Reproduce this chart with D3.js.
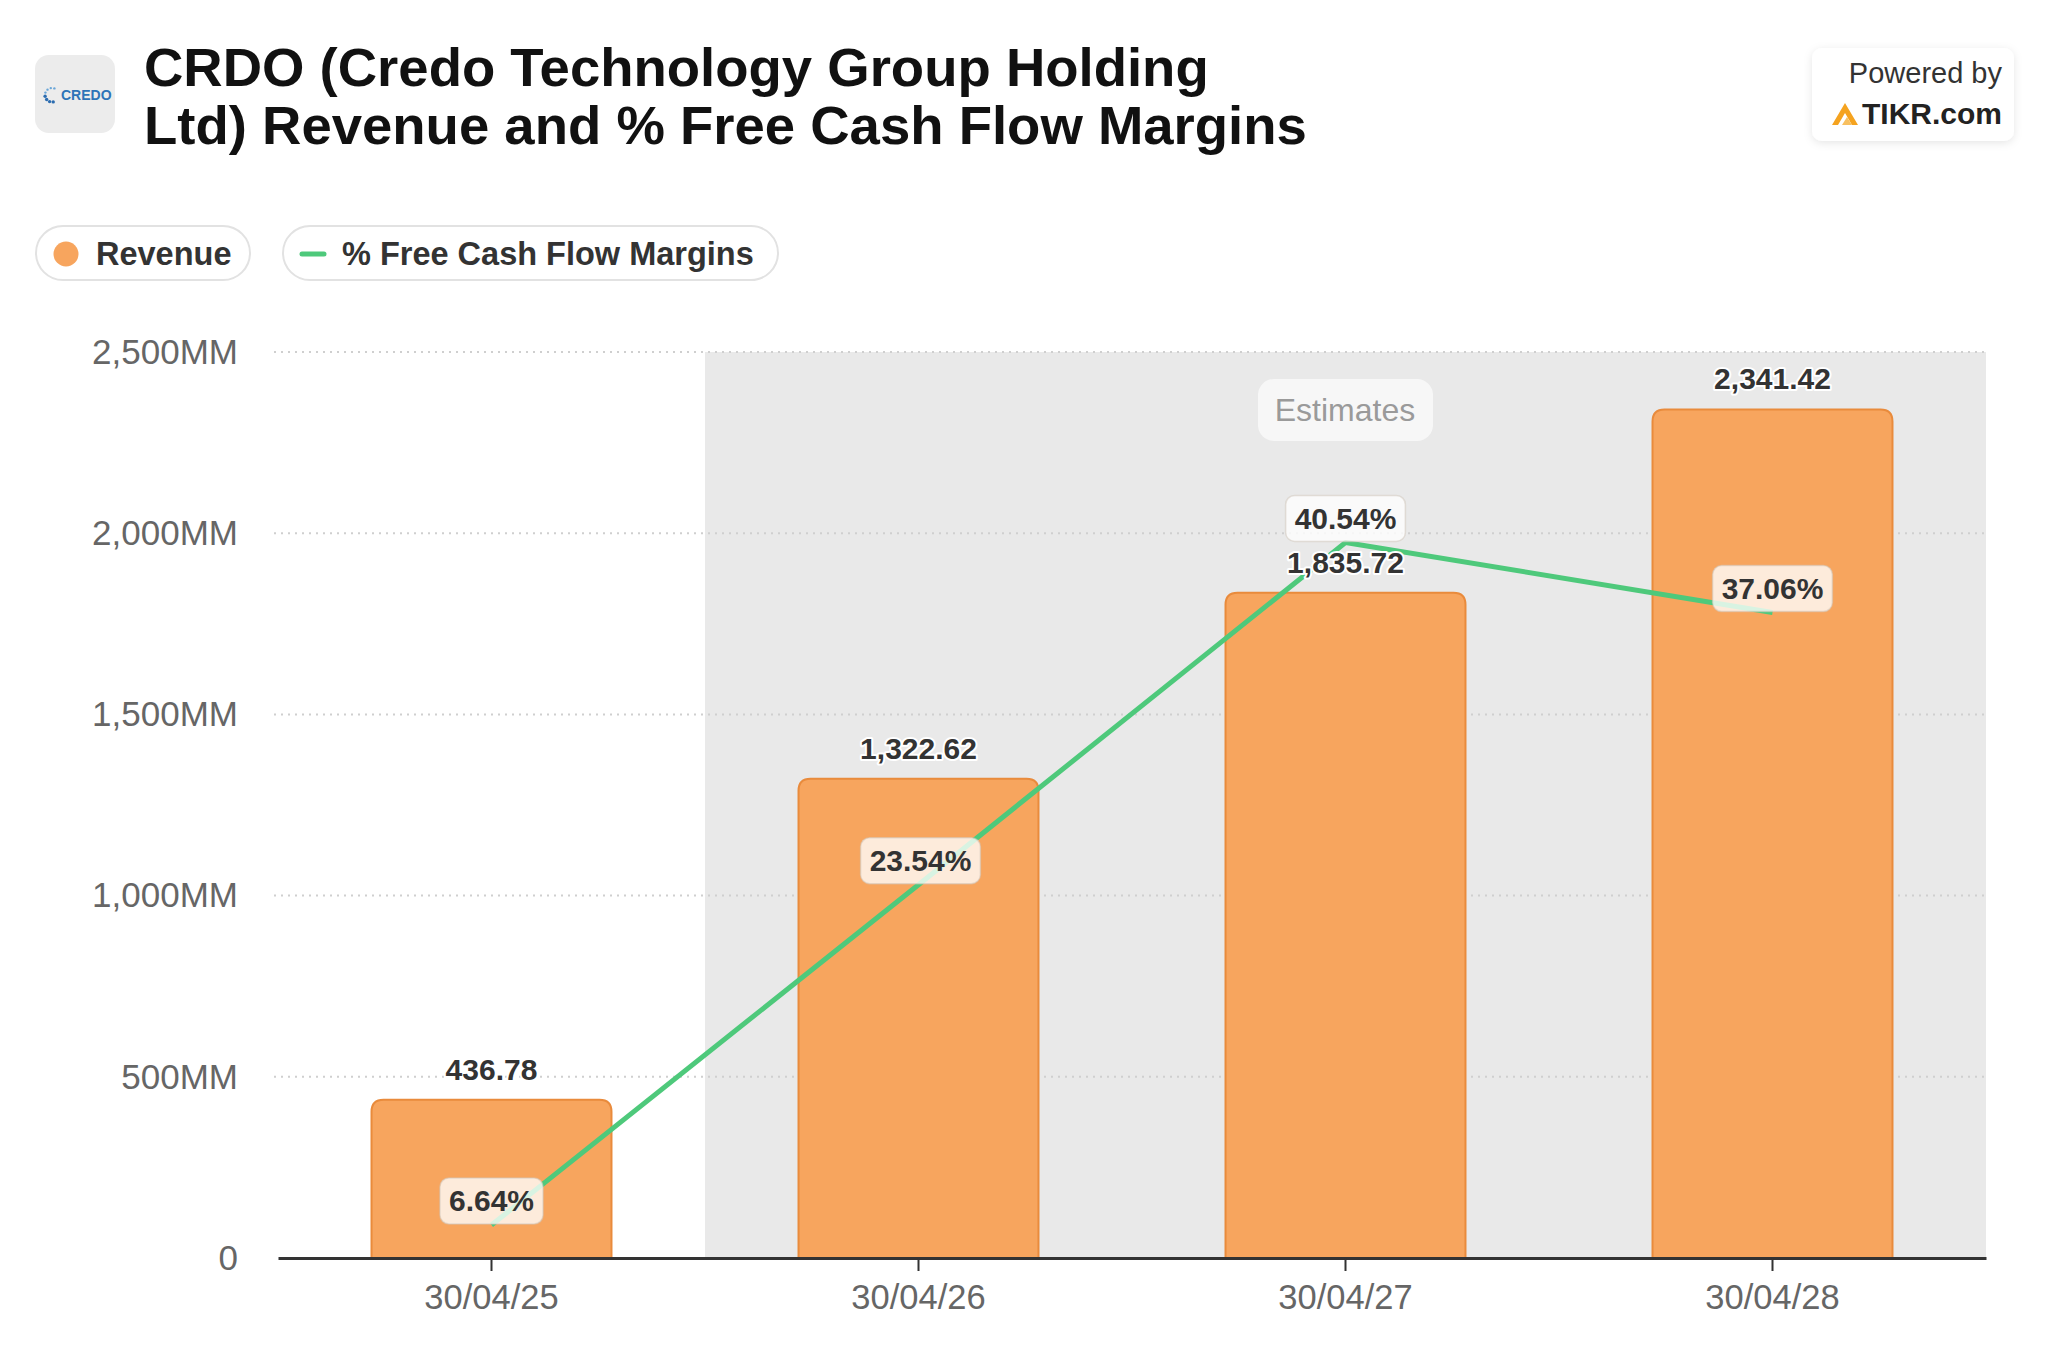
<!DOCTYPE html>
<html>
<head>
<meta charset="utf-8">
<script src="https://cdn.jsdelivr.net/npm/d3@7"></script>
<style>
  html, body { margin: 0; padding: 0; background: #ffffff; }
  svg { display: block; font-family: "Liberation Sans", Arial, Helvetica, sans-serif; }
</style>
</head>
<body>
<svg id="chart" width="2048" height="1365"></svg>
<script>
// ---------- data ----------
const categories = ["30/04/25", "30/04/26", "30/04/27", "30/04/28"];
const revenue = [436.78, 1322.62, 1835.72, 2341.42];
const revenueLabels = ["436.78", "1,322.62", "1,835.72", "2,341.42"];
const fcfMargin = [6.64, 23.54, 40.54, 37.06];
const fcfLabels = ["6.64%", "23.54%", "40.54%", "37.06%"];
const yTicks = [0, 500, 1000, 1500, 2000, 2500];
const estimateStartIndex = 1;
const titleLines = ["CRDO (Credo Technology Group Holding", "Ltd) Revenue and % Free Cash Flow Margins"];
const legendItems = ["Revenue", "% Free Cash Flow Margins"];

// ---------- layout ----------
const svg = d3.select("#chart");
const plot = { left: 278, right: 1986, top: 352, bottom: 1258 };
const C = {
  bar: "#f7a55e", barStroke: "#e98b3c", line: "#4ec97b",
  text: "#333333", axisText: "#666666", grid: "#cfcfcf", shade: "#e9e9e9"
};

const x = d3.scaleBand().domain(categories).range([plot.left, plot.right]).padding(0);
const y = d3.scaleLinear().domain([0, 2500]).range([plot.bottom, plot.top]);
const y2 = d3.scaleLinear().domain([5, 50]).range([plot.bottom, plot.top]);
const barW = x.bandwidth() * 0.562;
const cx = d => x(d) + x.bandwidth() / 2;

const defs = svg.append("defs");
const f = defs.append("filter").attr("id", "shadow").attr("x", "-20%").attr("y", "-20%").attr("width", "140%").attr("height", "150%");
f.append("feDropShadow").attr("dx", 0).attr("dy", 2).attr("stdDeviation", 4).attr("flood-color", "#000").attr("flood-opacity", 0.10);

// ---------- header ----------
const logo = svg.append("g");
logo.append("rect").attr("x", 35).attr("y", 55).attr("width", 80).attr("height", 78).attr("rx", 14).attr("fill", "#ececec");
const dotAngles = [70, 100, 130, 160, 190, 220, 250, 280];
dotAngles.forEach((a, i) => {
  const r = (a * Math.PI) / 180;
  logo.append("circle")
    .attr("cx", 52 + 7 * Math.cos(r)).attr("cy", 95 - 7 * Math.sin(r))
    .attr("r", i > 3 ? 1.7 : 1.2).attr("fill", i > 3 ? "#2b6cb0" : "#6aa6d8");
});
logo.append("text").attr("x", 61).attr("y", 100).attr("font-size", 14).attr("font-weight", "bold")
  .attr("fill", "#2e74b8").text("CREDO");

svg.append("g").selectAll("text").data(titleLines).join("text")
  .attr("x", 144).attr("y", (d, i) => 86 + i * 58)
  .attr("font-size", 54.5).attr("font-weight", "bold").attr("fill", "#111")
  .text(d => d);

const pb = svg.append("g");
pb.append("rect").attr("x", 1812).attr("y", 48).attr("width", 202).attr("height", 93).attr("rx", 10)
  .attr("fill", "#fff").attr("filter", "url(#shadow)");
pb.append("text").attr("x", 2002).attr("y", 83).attr("text-anchor", "end").attr("font-size", 29).attr("fill", "#333").text("Powered by");
pb.append("text").attr("x", 2002).attr("y", 124).attr("text-anchor", "end").attr("font-size", 30).attr("font-weight", "bold").attr("fill", "#222").text("TIKR.com");
pb.append("path").attr("d", "M1832,125 L1845,103 L1858,125 L1852,125 L1845,113 L1838,125 Z").attr("fill", "#f5a31f");
pb.append("path").attr("d", "M1842,125 L1847,117 L1852,125 Z").attr("fill", "#f8c060");

// ---------- legend ----------
const lg = svg.append("g");
lg.append("rect").attr("x", 36).attr("y", 226).attr("width", 214).attr("height", 54).attr("rx", 27)
  .attr("fill", "#fff").attr("stroke", "#e2e2e2").attr("stroke-width", 2);
lg.append("circle").attr("cx", 66).attr("cy", 254).attr("r", 12.5).attr("fill", C.bar);
lg.append("text").attr("x", 96).attr("y", 265).attr("font-size", 32.5).attr("font-weight", "bold").attr("fill", C.text).text(legendItems[0]);
lg.append("rect").attr("x", 283).attr("y", 226).attr("width", 495).attr("height", 54).attr("rx", 27)
  .attr("fill", "#fff").attr("stroke", "#e2e2e2").attr("stroke-width", 2);
lg.append("line").attr("x1", 302).attr("x2", 324).attr("y1", 254).attr("y2", 254)
  .attr("stroke", C.line).attr("stroke-width", 5).attr("stroke-linecap", "round");
lg.append("text").attr("x", 342).attr("y", 265).attr("font-size", 32.5).attr("font-weight", "bold").attr("fill", C.text).text(legendItems[1]);

// ---------- plot ----------
svg.append("rect")
  .attr("x", x(categories[estimateStartIndex])).attr("y", plot.top)
  .attr("width", plot.right - x(categories[estimateStartIndex])).attr("height", plot.bottom - plot.top)
  .attr("fill", C.shade);

svg.append("g").selectAll("line").data(yTicks.filter(t => t > 0)).join("line")
  .attr("x1", plot.left - 4).attr("x2", plot.right).attr("y1", d => y(d)).attr("y2", d => y(d))
  .attr("stroke", C.grid).attr("stroke-width", 2).attr("stroke-dasharray", "2,5");

const yAxis = d3.axisLeft(y).tickValues(yTicks).tickSize(0).tickPadding(0)
  .tickFormat(d => d === 0 ? "0" : d3.format(",")(d) + "MM");
const yg = svg.append("g").attr("transform", "translate(238,0)").call(yAxis);
yg.select(".domain").remove();
yg.selectAll("text").attr("font-size", 35).attr("fill", C.axisText).attr("font-family", "Liberation Sans, Arial, sans-serif");

const eg = svg.append("g");
eg.append("rect").attr("x", 1258).attr("y", 379).attr("width", 175).attr("height", 62).attr("rx", 16).attr("fill", "#f7f7f7");
eg.append("text").attr("x", 1345).attr("y", 421).attr("text-anchor", "middle").attr("font-size", 32).attr("fill", "#9a9a9a").text("Estimates");

const rTop = 12;
function barPath(x0, w, yTop, yBot) {
  return `M${x0},${yBot} L${x0},${yTop + rTop} Q${x0},${yTop} ${x0 + rTop},${yTop} L${x0 + w - rTop},${yTop} Q${x0 + w},${yTop} ${x0 + w},${yTop + rTop} L${x0 + w},${yBot} Z`;
}
svg.append("g").selectAll("path").data(categories).join("path")
  .attr("d", (d, i) => barPath(cx(d) - barW / 2, barW, y(revenue[i]), y(0)))
  .attr("fill", C.bar).attr("stroke", C.barStroke).attr("stroke-width", 2);

const xAxis = d3.axisBottom(x).tickSize(13).tickSizeOuter(0).tickPadding(14);
const xg = svg.append("g").attr("transform", `translate(0,${plot.bottom})`).call(xAxis);
xg.select(".domain").attr("stroke", "#333").attr("stroke-width", 3);
xg.selectAll(".tick line").attr("stroke", "#333").attr("stroke-width", 2);
xg.selectAll("text").attr("font-size", 34.5).attr("fill", C.axisText).attr("font-family", "Liberation Sans, Arial, sans-serif");

const line = d3.line().x((d, i) => cx(categories[i])).y(d => y2(d));
svg.append("path").datum(fcfMargin).attr("d", line)
  .attr("fill", "none").attr("stroke", C.line).attr("stroke-width", 5).attr("stroke-linejoin", "round");

svg.append("g").selectAll("text").data(categories).join("text")
  .attr("x", d => cx(d)).attr("y", (d, i) => y(revenue[i]) - 20)
  .attr("text-anchor", "middle").attr("font-size", 30).attr("font-weight", "bold")
  .attr("fill", C.text).attr("stroke", "#fff").attr("stroke-width", 4).attr("paint-order", "stroke")
  .attr("stroke-linejoin", "round")
  .text((d, i) => revenueLabels[i]);

const ml = svg.append("g").selectAll("g").data(categories).join("g")
  .attr("transform", (d, i) => `translate(${cx(d) + (i === 1 ? 2 : 0)},${y2(fcfMargin[i]) - 24})`);
ml.append("rect").attr("class", "lbox");
ml.append("text").attr("text-anchor", "middle").attr("dy", "0.35em")
  .attr("font-size", 30).attr("font-weight", "bold").attr("fill", C.text)
  .text((d, i) => fcfLabels[i]);
ml.each(function () {
  const g = d3.select(this);
  const bb = g.select("text").node().getBBox();
  const w = bb.width + 18, h = 46;
  g.select("rect").attr("x", -w / 2).attr("y", -h / 2).attr("width", w).attr("height", h).attr("rx", 9)
    .attr("fill", "rgba(255,255,255,0.78)").attr("stroke", "rgba(210,200,190,0.55)").attr("stroke-width", 1.5);
});
</script>
</body>
</html>
